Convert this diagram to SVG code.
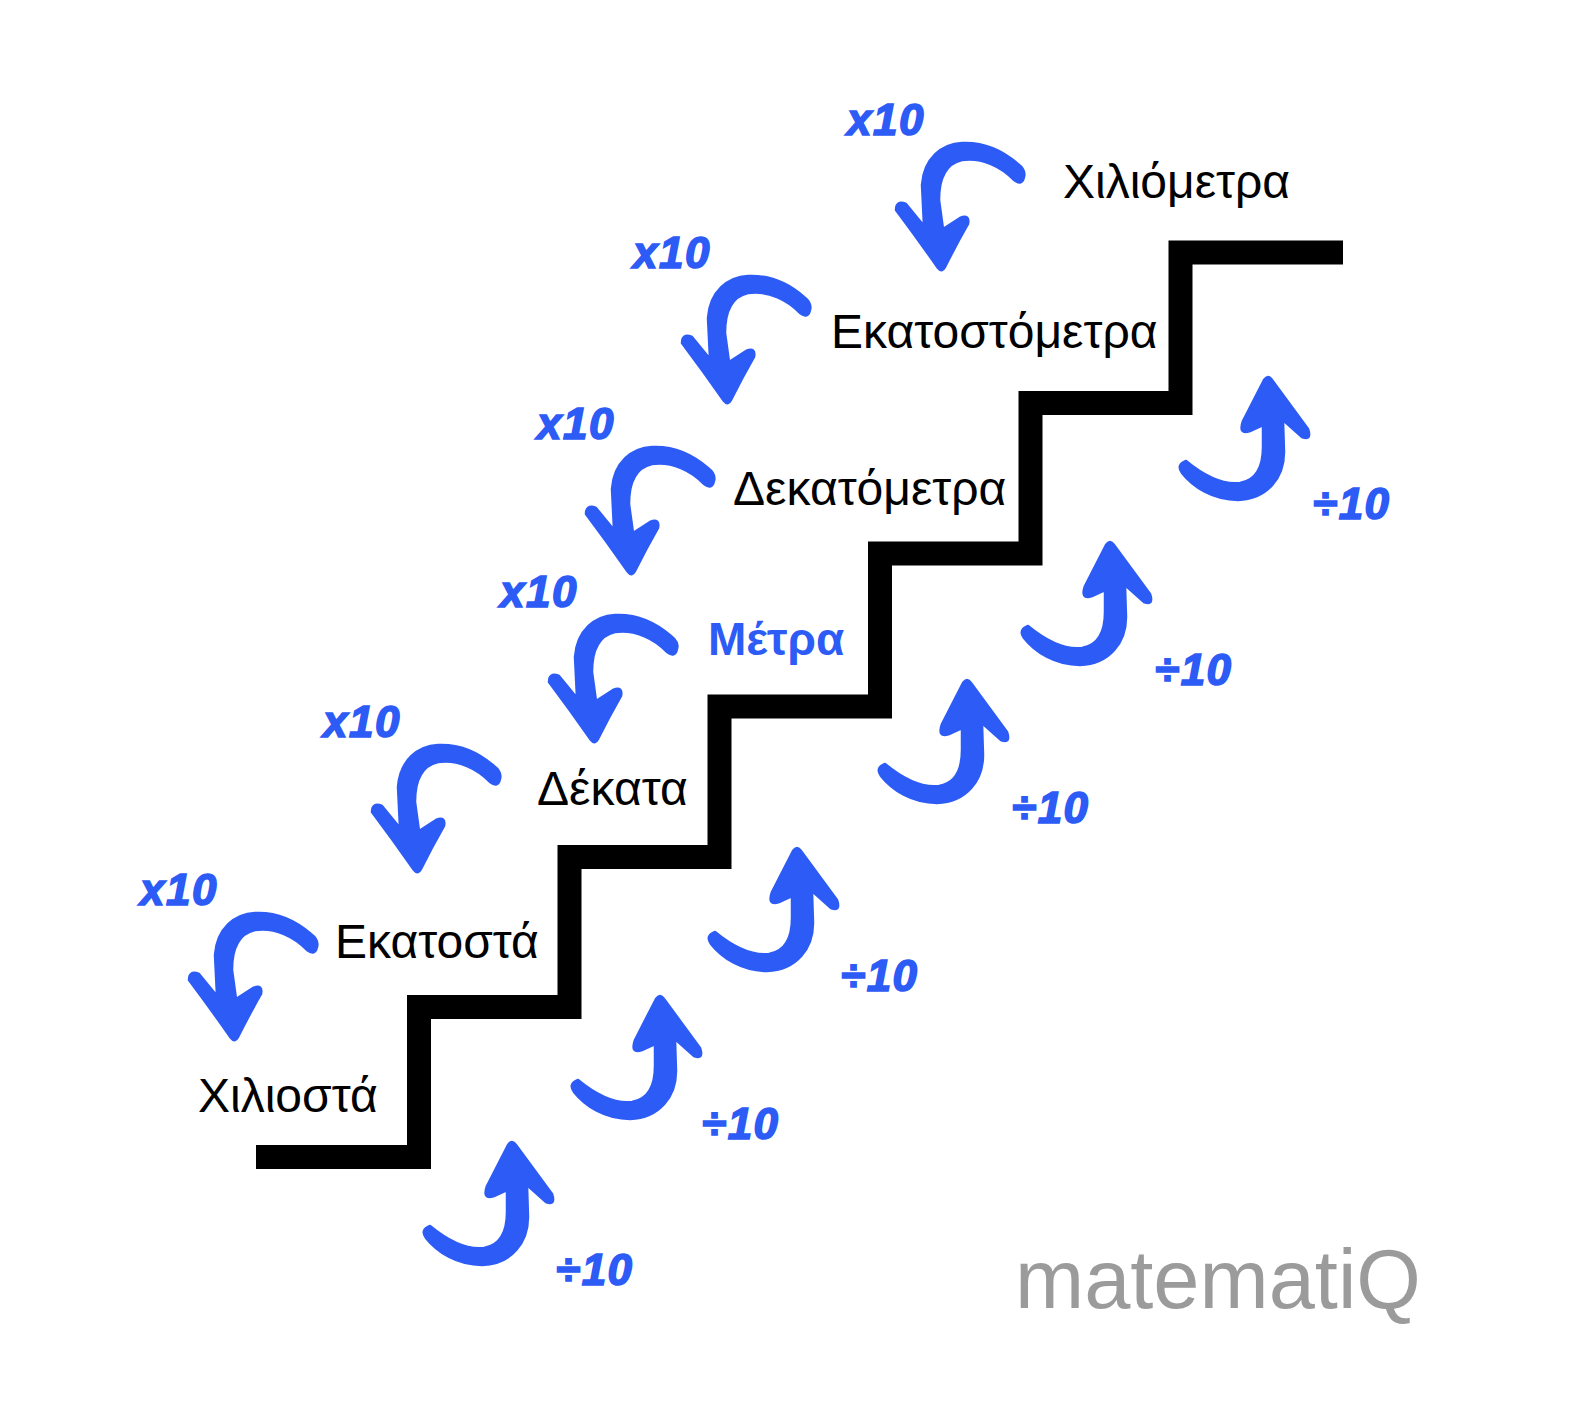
<svg xmlns="http://www.w3.org/2000/svg" xmlns:xlink="http://www.w3.org/1999/xlink" width="1592" height="1420" viewBox="0 0 1592 1420">
<style>
.unit{font-family:"Liberation Sans",Arial,sans-serif;font-size:48px;fill:#000}
.main{font-family:"Liberation Sans",Arial,sans-serif;font-size:46px;font-weight:bold;fill:#2d5bf5}
.op{font-family:"Liberation Sans",Arial,sans-serif;font-size:44px;font-weight:bold;font-style:italic;fill:#2d5bf5;stroke:#2d5bf5;stroke-width:1.6px;letter-spacing:1.5px}
.brand{font-family:"Liberation Sans",Arial,sans-serif;font-size:83px;fill:#9b9b9b}
.arr{fill:#2d5bf5;stroke:#2d5bf5;stroke-width:2.5px;stroke-linejoin:round}
</style>
<defs>
<path id="down" class="arr" d="M 82,-93 Q 84,-100 76,-106 C 60,-120 40,-128 20,-127 C 0,-126 -18,-112 -20,-85 L -18,-44 L -36,-66 Q -46,-70 -46,-60 Q -25,-32 -4,-2 Q 0,3 3,-3 Q 14,-25 26,-46 Q 28,-56 18,-52 L 1,-41 L -3,-70 C -3,-90 2,-106 20,-110 C 40,-113 60,-103 72,-90 Q 80,-84 82,-93 Z"/>
<path id="up" class="arr" d="M -86,96 Q -92,88 -82,84 C -65,98 -45,108 -28,106 C -10,103 -5,88 -5,70 L -5,48 L -18,54 Q -30,58 -25,44 L -4,3 Q 0,-3 4,3 L 40,52 Q 44,64 34,60 L 15,43 L 16,75 C 16,100 0,122 -30,123 C -55,123 -75,110 -86,96 Z"/>
</defs>
<rect width="1592" height="1420" fill="#fff"/>
<g id="stairs">
<path d="M256 1157 H419 V1007 H569.5 V857 H719.5 V706.5 H880 V553.5 H1030.5 V403 H1180.5 V252.5 H1343" fill="none" stroke="#000" stroke-width="24" stroke-linejoin="miter"/>
</g>
<g id="connectors">
<g id="mul1"><use xlink:href="#down" transform="translate(942,270)"/><text class="op" x="847" y="135">x10</text></g>
<g id="mul2"><use xlink:href="#down" transform="translate(728,403)"/><text class="op" x="633" y="268">x10</text></g>
<g id="mul3"><use xlink:href="#down" transform="translate(632,574)"/><text class="op" x="537" y="439">x10</text></g>
<g id="mul4"><use xlink:href="#down" transform="translate(595,742)"/><text class="op" x="500" y="607">x10</text></g>
<g id="mul5"><use xlink:href="#down" transform="translate(418,872)"/><text class="op" x="323" y="737">x10</text></g>
<g id="mul6"><use xlink:href="#down" transform="translate(235,1040)"/><text class="op" x="140" y="905">x10</text></g>
<g id="div1"><use xlink:href="#up" transform="translate(1268,377)"/><text class="op" x="1313" y="519">÷10</text></g>
<g id="div2"><use xlink:href="#up" transform="translate(1110,542)"/><text class="op" x="1155" y="685">÷10</text></g>
<g id="div3"><use xlink:href="#up" transform="translate(967,680)"/><text class="op" x="1012" y="823">÷10</text></g>
<g id="div4"><use xlink:href="#up" transform="translate(797,848)"/><text class="op" x="841" y="991">÷10</text></g>
<g id="div5"><use xlink:href="#up" transform="translate(660,996)"/><text class="op" x="702" y="1139">÷10</text></g>
<g id="div6"><use xlink:href="#up" transform="translate(512,1142)"/><text class="op" x="556" y="1285">÷10</text></g>
</g>
<g id="km"><text class="unit" x="1063" y="198">Χιλιόμετρα</text></g>
<g id="hm"><text class="unit" x="831" y="348">Εκατοστόμετρα</text></g>
<g id="dam"><text class="unit" x="733" y="505">Δεκατόμετρα</text></g>
<g id="m"><text class="main" x="708" y="655">Μέτρα</text></g>
<g id="dm"><text class="unit" x="537" y="805">Δέκατα</text></g>
<g id="cm"><text class="unit" x="335" y="958">Εκατοστά</text></g>
<g id="mm"><text class="unit" x="198" y="1112">Χιλιοστά</text></g>
<g id="brand"><text class="brand" x="1015" y="1308">matematiQ</text></g>
</svg>
